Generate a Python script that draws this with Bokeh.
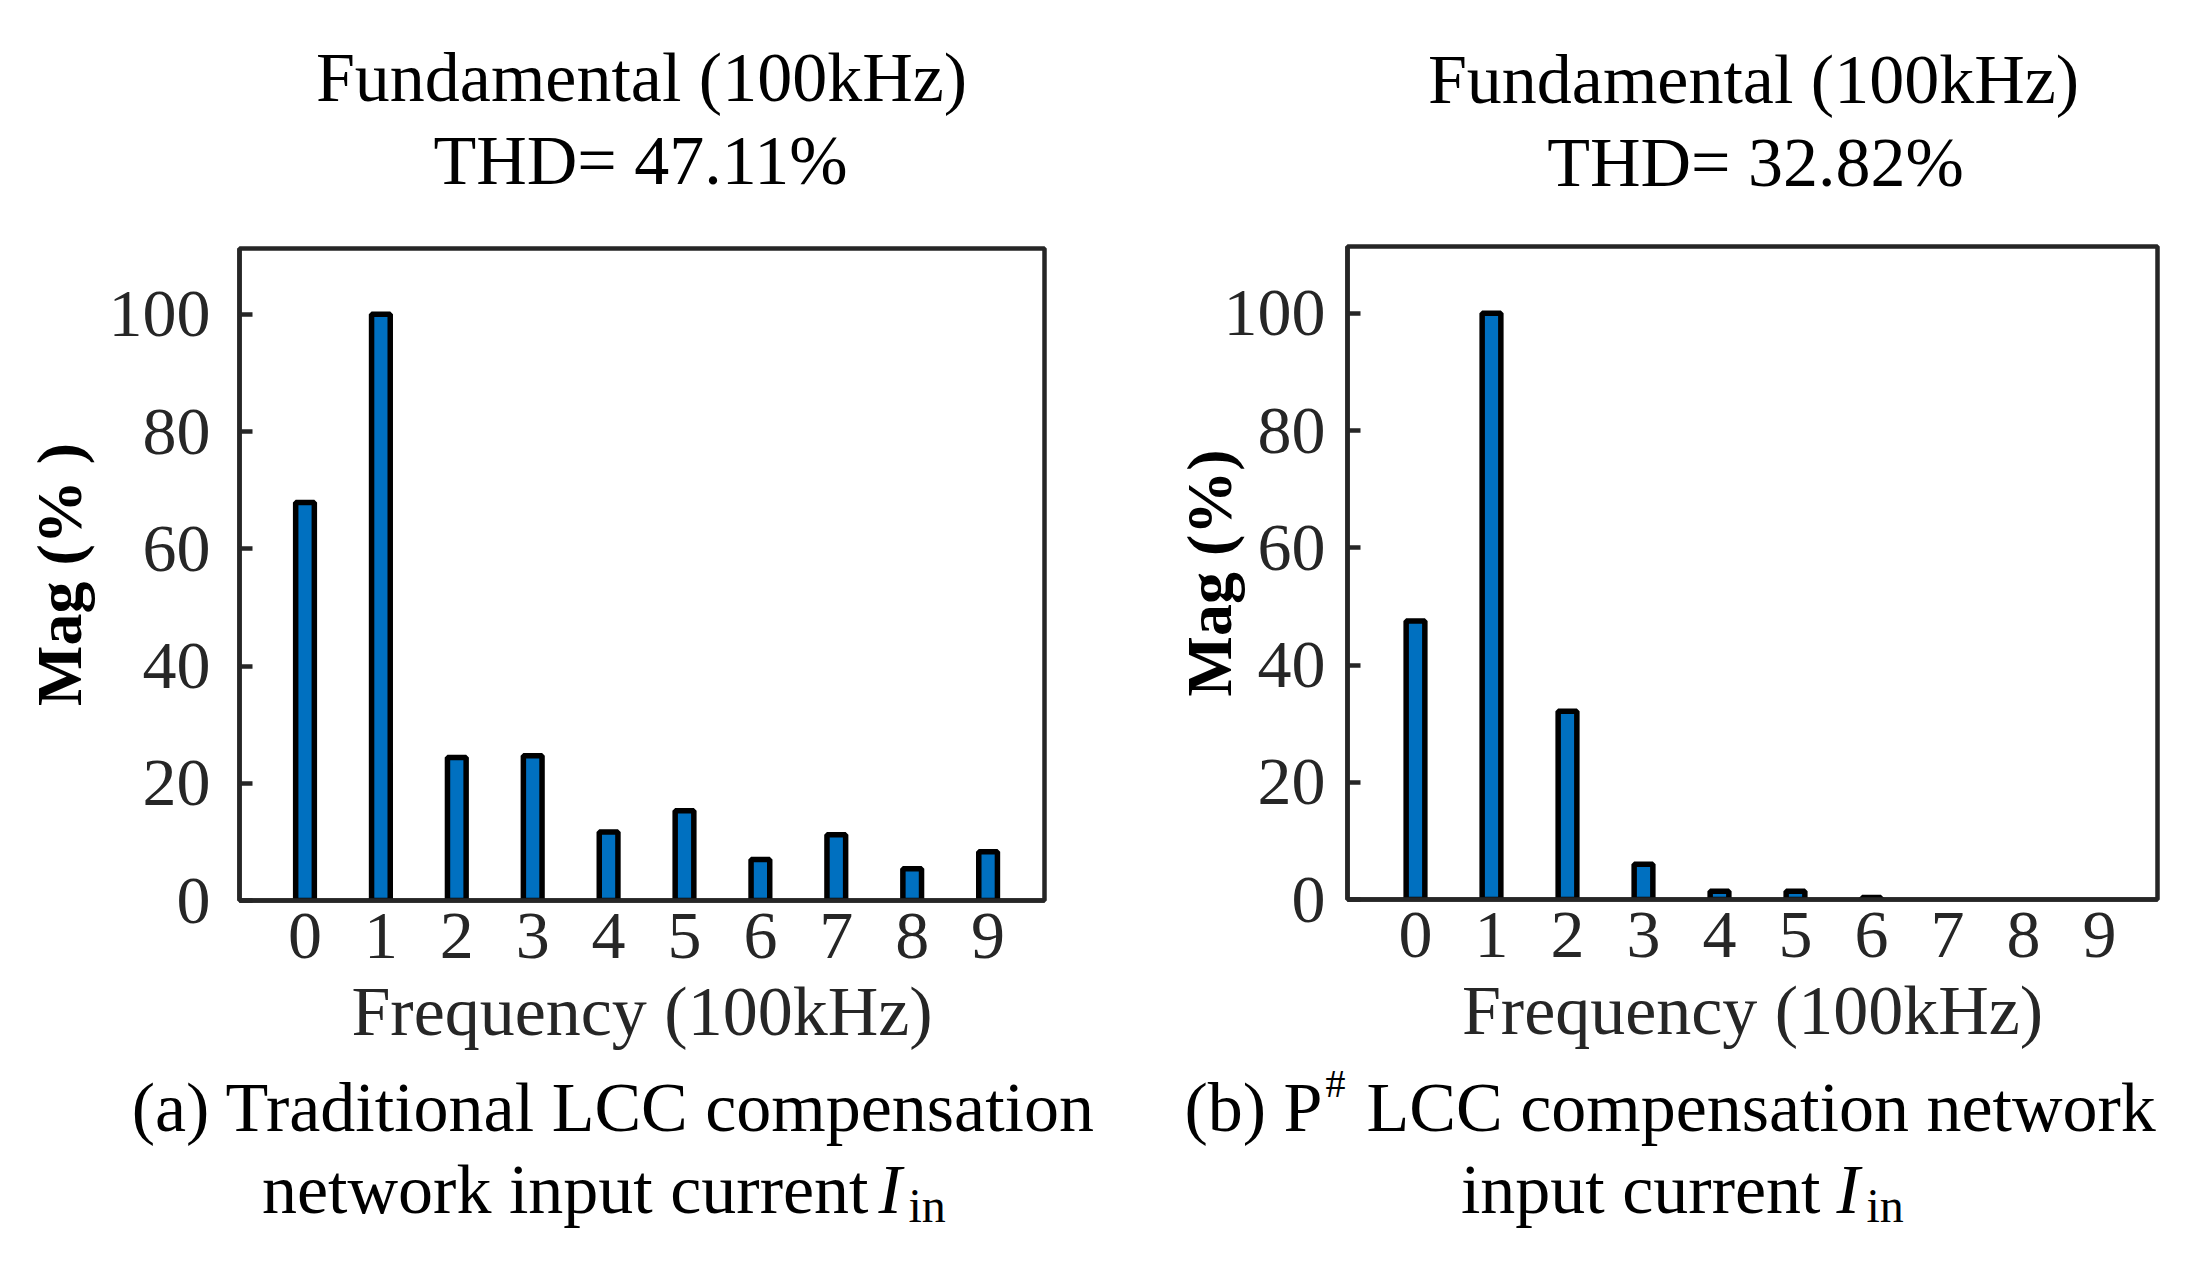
import math
from bokeh.plotting import figure
from bokeh.models import Range1d, FixedTicker, Label, ColumnDataSource
from bokeh.layouts import row, column
from bokeh.embed import file_html
from bokeh.resources import INLINE

# ---------------- data ----------------
harmonics = [0, 1, 2, 3, 4, 5, 6, 7, 8, 9]
x_tick_labels = ["0", "1", "2", "3", "4", "5", "6", "7", "8", "9"]
y_ticks = [0, 20, 40, 60, 80, 100]
mag_a = [67.9, 100.0, 24.4, 24.7, 11.7, 15.3, 7.0, 11.2, 5.4, 8.3]
mag_b = [47.5, 100.0, 32.1, 6.0, 1.4, 1.4, 0.35, 0.0, 0.0, 0.0]
title_a = ["Fundamental (100kHz)", "THD= 47.11%"]
title_b = ["Fundamental (100kHz)", "THD= 32.82%"]
xlabel = "Frequency (100kHz)"
ylabel_a = "Mag (% )"
ylabel_b = "Mag (%)"

FONT = "Liberation Serif"
AX = "#262626"
BLUE = "#0070C0"

# vertical bands of each column (page pixels)
TOP_END = 228      # title strip: 0 .. 228
CHART_END = 1062   # chart: 228 .. 1062
PAGE_END = 1264    # caption strip: 1062 .. 1264
BASE_SHIFT = 0.343  # correction (in em) between wanted and drawn baseline


def text_strip(x0, w, y0, y1):
    """A blank figure whose data coordinates equal page pixels."""
    p = figure(width=w, height=y1 - y0, output_backend="svg", toolbar_location=None,
               x_range=Range1d(x0, x0 + w), y_range=Range1d(0, y1 - y0),
               x_axis_location=None, y_axis_location=None,
               min_border=0, min_border_left=0, min_border_right=0,
               min_border_top=0, min_border_bottom=0)
    p.frame_align = False
    p.outline_line_color = None
    p.xgrid.visible = False
    p.ygrid.visible = False
    p.background_fill_color = "white"
    p.border_fill_color = "white"
    return p


def put(p, y1, sx, sy, text, size=70, style="normal", align="left", color="black"):
    sy = sy - BASE_SHIFT * size
    p.add_layout(Label(x=sx, y=y1 - sy, text=text, text_font=FONT,
                       text_font_size="%dpx" % size,
                       text_font_style=style, text_color=color,
                       text_align=align, text_baseline="alphabetic"))


def chart(x0, w, fl, fr, ft, fb, x0s, dxs, ppu, values, ylabel, tick_standoff, ylab_standoff):
    p = figure(width=w, height=CHART_END - TOP_END, output_backend="svg",
               toolbar_location=None,
               x_range=Range1d((fl - x0s) / dxs, (fr - x0s) / dxs),
               y_range=Range1d(0, (fb - ft) / ppu),
               min_border_left=fl - x0, min_border_right=x0 + w - fr,
               min_border_top=ft - TOP_END, min_border_bottom=CHART_END - fb)
    p.frame_align = False
    p.background_fill_color = "white"
    p.border_fill_color = "white"
    p.xgrid.visible = False
    p.ygrid.visible = False
    p.outline_line_color = AX
    p.outline_line_width = 4.5

    src = ColumnDataSource(dict(x=harmonics, top=values,
                                la=[1.0 if v > 0 else 0.0 for v in values]))
    p.vbar(x="x", top="top", bottom=0, width=0.246, source=src,
           fill_color=BLUE, line_color="black", line_width=5.5, line_alpha="la")

    xa = p.xaxis[0]
    xa.ticker = FixedTicker(ticks=harmonics)
    xa.major_label_overrides = {h: t for h, t in zip(harmonics, x_tick_labels)}
    xa.major_tick_in = 0
    xa.major_tick_out = 0
    xa.minor_tick_in = 0
    xa.minor_tick_out = 0
    xa.axis_line_color = AX
    xa.axis_line_width = 4.5
    xa.major_label_text_font = FONT
    xa.major_label_text_font_size = "68px"
    xa.major_label_text_color = AX
    xa.major_label_standoff = 13
    xa.axis_label = xlabel
    xa.axis_label_text_font = FONT
    xa.axis_label_text_font_size = "70px"
    xa.axis_label_text_font_style = "normal"
    xa.axis_label_text_color = AX
    xa.axis_label_standoff = 12

    ya = p.yaxis[0]
    ya.ticker = FixedTicker(ticks=y_ticks)
    ya.major_tick_in = 13
    ya.major_tick_out = 0
    ya.minor_tick_in = 0
    ya.minor_tick_out = 0
    ya.major_tick_line_color = AX
    ya.major_tick_line_width = 4.5
    ya.axis_line_color = AX
    ya.axis_line_width = 4.5
    ya.major_label_text_font = FONT
    ya.major_label_text_font_size = "68px"
    ya.major_label_text_color = AX
    ya.major_label_standoff = tick_standoff
    ya.axis_label = ylabel
    ya.axis_label_text_font = FONT
    ya.axis_label_text_font_size = "64px"
    ya.axis_label_text_font_style = "bold"
    ya.axis_label_text_color = "black"
    ya.axis_label_standoff = ylab_standoff
    return p


# ---------------- left column (a) ----------------
LX, LW = 0, 1105
ta = text_strip(LX, LW, 0, TOP_END)
put(ta, TOP_END, 641, 101, title_a[0], align="center")
put(ta, TOP_END, 640, 184, title_a[1], align="center")
pa = chart(LX, LW, 239, 1044, 248, 900, 304.5, 75.9, 5.862, mag_a, ylabel_a, 29, 11)
ba = text_strip(LX, LW, CHART_END, PAGE_END)
put(ba, PAGE_END, 613, 1131, "(a) Traditional LCC compensation", align="center")
put(ba, PAGE_END, 868, 1213, "network input current", align="right")
put(ba, PAGE_END, 878, 1213, "I", style="italic")
put(ba, PAGE_END, 908, 1221, "in", size=48)

# ---------------- right column (b) ----------------
RX, RW = 1105, 1103
tb = text_strip(RX, RW, 0, TOP_END)
put(tb, TOP_END, 1753, 103, title_b[0], align="center")
put(tb, TOP_END, 1755, 186, title_b[1], align="center")
pb = chart(RX, RW, 1347, 2157, 246, 899, 1415, 76.0, 5.862, mag_b, ylabel_b, 22, -24)
bb = text_strip(RX, RW, CHART_END, PAGE_END)
put(bb, PAGE_END, 1322, 1131, "(b) P", align="right")
put(bb, PAGE_END, 1325, 1097, "#", size=40)
put(bb, PAGE_END, 1366, 1131, "LCC compensation network")
put(bb, PAGE_END, 1820, 1213, "input current", align="right")
put(bb, PAGE_END, 1836, 1213, "I", style="italic")
put(bb, PAGE_END, 1866, 1221, "in", size=48)

layout = row(column(ta, pa, ba), column(tb, pb, bb))
open("out.html", "w").write(file_html(layout, INLINE))
